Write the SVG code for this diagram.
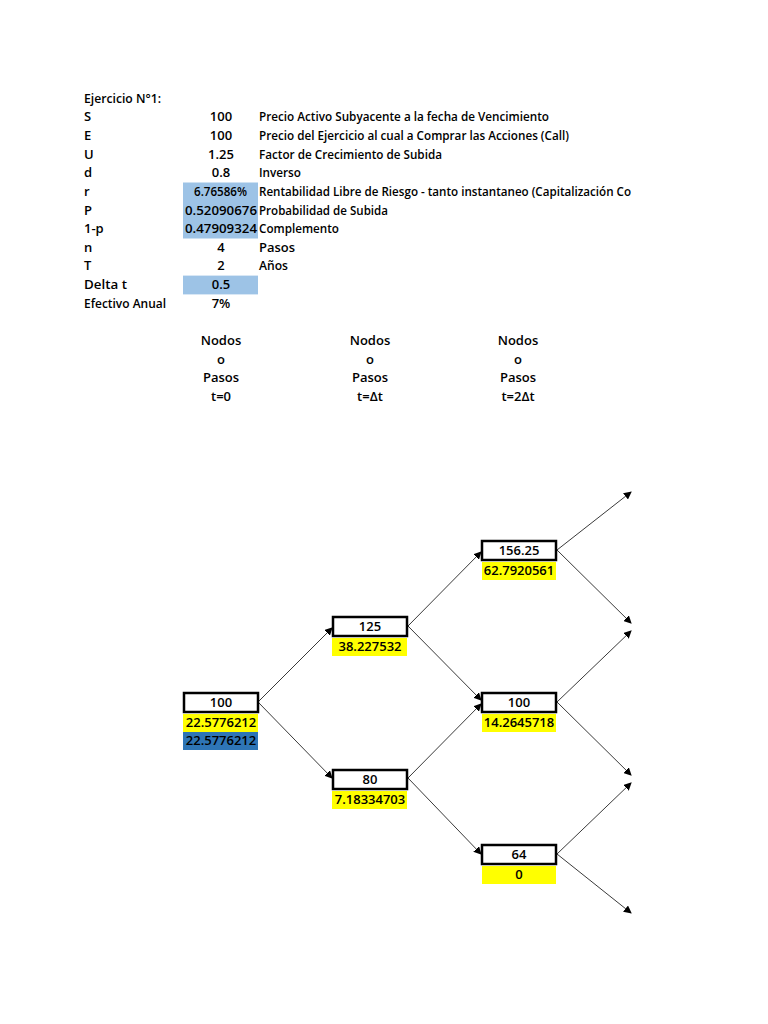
<svg xmlns="http://www.w3.org/2000/svg" width="768" height="1024" viewBox="0 0 768 1024">
<defs>
<marker id="ah" markerWidth="8" markerHeight="8" refX="7" refY="4" orient="auto" markerUnits="userSpaceOnUse">
<path d="M0,0 L8,4 L0,8 z" fill="#000"/>
</marker>
<style>
text{font-family:"Open Sans","Liberation Sans",sans-serif;font-weight:600;font-size:13px;fill:#000}
.c{text-anchor:middle}
.box{fill:#fff;stroke:#000;stroke-width:2.5}
.y{fill:#ffff00}
.lb{fill:#9dc3e6}
.db{fill:#2e75b6}
.con line{stroke:#3a3a3a;stroke-width:1;marker-end:url(#ah)}
</style>
</defs>
<rect width="768" height="1024" fill="#fff"/>
<g id="table">
<rect class="lb" x="183" y="182.5" width="75" height="56"/>
<rect class="lb" x="183" y="275.6" width="75" height="18.8"/>
<text x="84" y="103" textLength="77" lengthAdjust="spacingAndGlyphs">Ejercicio N°1:</text>
<text x="84" y="121">S</text>
<text x="84" y="140">E</text>
<text x="84" y="159">U</text>
<text x="84" y="177">d</text>
<text x="84" y="196">r</text>
<text x="84" y="215">P</text>
<text x="84" y="233">1-p</text>
<text x="84" y="252">n</text>
<text x="84" y="270">T</text>
<text x="84" y="289" textLength="43" lengthAdjust="spacingAndGlyphs">Delta t</text>
<text x="84" y="308" textLength="82" lengthAdjust="spacingAndGlyphs">Efectivo Anual</text>
<text class="c" x="221" y="121">100</text>
<text class="c" x="221" y="140">100</text>
<text class="c" x="221" y="159">1.25</text>
<text class="c" x="221" y="177">0.8</text>
<text x="194" y="196" textLength="53" lengthAdjust="spacingAndGlyphs">6.76586%</text>
<text x="185" y="215" textLength="72" lengthAdjust="spacingAndGlyphs">0.52090676</text>
<text x="185" y="233" textLength="72" lengthAdjust="spacingAndGlyphs">0.47909324</text>
<text class="c" x="221" y="252">4</text>
<text class="c" x="221" y="270">2</text>
<text class="c" x="221" y="289">0.5</text>
<text class="c" x="221" y="308">7%</text>
<text x="259" y="121" textLength="290" lengthAdjust="spacingAndGlyphs">Precio Activo Subyacente a la fecha de Vencimiento</text>
<text x="259" y="140" textLength="310" lengthAdjust="spacingAndGlyphs">Precio del Ejercicio al cual a Comprar las Acciones (Call)</text>
<text x="259" y="159" textLength="183" lengthAdjust="spacingAndGlyphs">Factor de Crecimiento de Subida</text>
<text x="259" y="177" textLength="42" lengthAdjust="spacingAndGlyphs">Inverso</text>
<text x="259" y="196" textLength="372" lengthAdjust="spacingAndGlyphs">Rentabilidad Libre de Riesgo - tanto instantaneo (Capitalización Co</text>
<text x="259" y="215" textLength="129" lengthAdjust="spacingAndGlyphs">Probabilidad de Subida</text>
<text x="259" y="233" textLength="80" lengthAdjust="spacingAndGlyphs">Complemento</text>
<text x="259" y="252" textLength="36" lengthAdjust="spacingAndGlyphs">Pasos</text>
<text x="259" y="270" textLength="29" lengthAdjust="spacingAndGlyphs">Años</text>
</g>
<g id="headers">
<text class="c" x="221" y="345">Nodos</text>
<text class="c" x="221" y="364">o</text>
<text class="c" x="221" y="382">Pasos</text>
<text class="c" x="221" y="401">t=0</text>
<text class="c" x="370" y="345">Nodos</text>
<text class="c" x="370" y="364">o</text>
<text class="c" x="370" y="382">Pasos</text>
<text class="c" x="370" y="401">t=Δt</text>
<text class="c" x="518" y="345">Nodos</text>
<text class="c" x="518" y="364">o</text>
<text class="c" x="518" y="382">Pasos</text>
<text class="c" x="518" y="401">t=2Δt</text>
</g>
<g class="con" id="connectors">
<line x1="258" y1="702" x2="332" y2="628"/>
<line x1="258" y1="702" x2="332" y2="778"/>
<line x1="408" y1="626" x2="481" y2="552"/>
<line x1="408" y1="626" x2="481" y2="700"/>
<line x1="408" y1="778" x2="481" y2="704"/>
<line x1="408" y1="778" x2="481" y2="854"/>
<line x1="557" y1="550" x2="631" y2="492"/>
<line x1="557" y1="550" x2="631" y2="623"/>
<line x1="557" y1="702" x2="631" y2="631"/>
<line x1="557" y1="702" x2="631" y2="775"/>
<line x1="557" y1="854" x2="631" y2="783"/>
<line x1="557" y1="854" x2="631" y2="913"/>
</g>
<g id="n0">
<rect class="box" x="184" y="693" width="74" height="19"/>
<text class="c" x="221" y="707">100</text>
<rect class="y" x="183" y="714" width="75" height="18"/>
<text class="c" x="221" y="727">22.5776212</text>
<rect class="db" x="183" y="732" width="75" height="18"/>
<text class="c" x="221" y="745">22.5776212</text>
</g>
<g id="n1u">
<rect class="box" x="333" y="617" width="74" height="19"/>
<text class="c" x="370" y="631">125</text>
<rect class="y" x="332" y="638" width="75" height="18"/>
<text class="c" x="370" y="651">38.227532</text>
</g>
<g id="n1d">
<rect class="box" x="333" y="770" width="74" height="19"/>
<text class="c" x="370" y="784">80</text>
<rect class="y" x="332" y="791" width="75" height="18"/>
<text class="c" x="370" y="804">7.18334703</text>
</g>
<g id="n2uu">
<rect class="box" x="482" y="541" width="74" height="19"/>
<text class="c" x="519" y="555">156.25</text>
<rect class="y" x="482" y="562" width="74" height="18"/>
<text class="c" x="519" y="575">62.7920561</text>
</g>
<g id="n2ud">
<rect class="box" x="482" y="693" width="74" height="19"/>
<text class="c" x="519" y="707">100</text>
<rect class="y" x="482" y="714" width="74" height="18"/>
<text class="c" x="519" y="727">14.2645718</text>
</g>
<g id="n2dd">
<rect class="box" x="482" y="845" width="74" height="19"/>
<text class="c" x="519" y="859">64</text>
<rect class="y" x="482" y="866" width="74" height="18"/>
<text class="c" x="519" y="879">0</text>
</g>
</svg>
